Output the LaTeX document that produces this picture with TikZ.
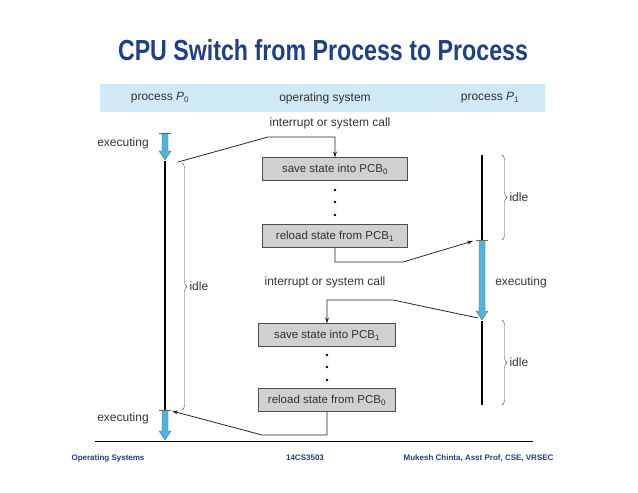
\documentclass[tikz,border=0pt]{standalone}
\usepackage{fontspec}
\setmainfont{Liberation Sans}
\usetikzlibrary{decorations.pathreplacing,arrows.meta}
\definecolor{band}{HTML}{CFE9F6}
\definecolor{titleblue}{HTML}{1F3F86}
\definecolor{arrblue}{HTML}{4FB3DD}
\definecolor{boxgray}{HTML}{D0D0D0}
\tikzset{
  box/.style={draw=black!70,fill=boxgray,minimum width=145pt,minimum height=23pt,font=\fontsize{11.5}{13}\selectfont,text=black!80,inner sep=2pt},
  lbl/.style={font=\fontsize{12}{14}\selectfont,text=black!80},
  conn/.style={draw=black!85,line width=0.8pt,-{Stealth[length=6pt,width=4pt]}},
  brc/.style={draw=black!70,decorate,decoration={brace,amplitude=5pt}},
  foot/.style={font=\bfseries\fontsize{8}{9}\selectfont,text=titleblue},
  pics/bluearrow/.style args={#1}{code={
    \filldraw[draw=black!60,fill=arrblue,line width=0.4pt]
      (-3,0) -- (-3,#1-9) -- (-6,#1-9) -- (0,#1) -- (6,#1-9) -- (3,#1-9) -- (3,0) -- cycle;
    \draw[black!60] (-6,0) -- (6,0);
  }}
}
\begin{document}
\begin{tikzpicture}[x=1pt,y=-1pt]
\useasboundingbox (0,0) rectangle (638,493);
% title
\node[font=\bfseries\fontsize{29}{32}\selectfont,text=titleblue,xscale=0.8] (title) at (323,50) {CPU Switch from Process to Process};
% header band
\fill[band] (100,84) rectangle (545,112);
\node[lbl] (hp0) at (160,98) {process \textit{P}\textsubscript{0}};
\node[lbl] (hos) at (325,98) {operating system};
\node[lbl] (hp1) at (490,98) {process \textit{P}\textsubscript{1}};
% P0 timeline
\pic at (165,133) {bluearrow={27}};
\draw[line width=2.5pt] (165,161) -- (165,410);
\pic at (165,410) {bluearrow={30}};
\node[lbl] (ex1) at (123,143) {executing};
\node[lbl] (ex2) at (123,418) {executing};
\draw[brc] (182,163) -- (182,410) node[midway,right=4pt,lbl] (idle0) {idle};
% P1 timeline
\draw[line width=2.5pt] (482,155) -- (482,240);
\pic at (482,240) {bluearrow={80}};
\draw[line width=2.5pt] (482,321) -- (482,405);
\draw[brc] (502,155) -- (502,240) node[midway,right=4pt,lbl] (idle1) {idle};
\draw[brc] (502,320) -- (502,405) node[midway,right=4pt,lbl] (idle2) {idle};
\node[lbl] (ex3) at (521,282) {executing};
% OS boxes
\node[lbl] (irq1) at (330,123) {interrupt or system call};
\node[box] (s0) at (335,169) {save state into PCB\textsubscript{0}};
\node[box] (r1) at (335,236) {reload state from PCB\textsubscript{1}};
\node[lbl] (irq2) at (325,282) {interrupt or system call};
\node[box,minimum width=137pt] (s1) at (327,335) {save state into PCB\textsubscript{1}};
\node[box,minimum width=137pt] (r0) at (327,400) {reload state from PCB\textsubscript{0}};
\foreach \y in {190,202,215} \fill (335,\y) circle (1.3pt);
\foreach \y in {355,367,380} \fill (327,\y) circle (1.3pt);
% connectors
\coordinate (a0) at (178,162);
\coordinate (a1) at (473,241);
\coordinate (a2) at (478,318);
\coordinate (a3) at (172,411);
\draw[conn] (a0) -- (268,137) -- (335,137) -- (s0.north);
\draw[conn] (r1.south) -- (335,262) -- (403,262) -- (a1);
\draw[conn] (a2) -- (393,300) -- (327,300) -- (s1.north);
\draw[conn] (r0.south) -- (327,435) -- (262,435) -- (a3);
% baseline
\draw[line width=0.8pt] (95,441) -- (533,441);
% footer
\node[foot,anchor=west] (f1) at (68,458) {Operating Systems};
\node[foot] (f2) at (305,458) {14CS3503};
\node[foot,anchor=east] (f3) at (557,458) {Mukesh Chinta, Asst Prof, CSE, VRSEC};
\end{tikzpicture}
\end{document}
